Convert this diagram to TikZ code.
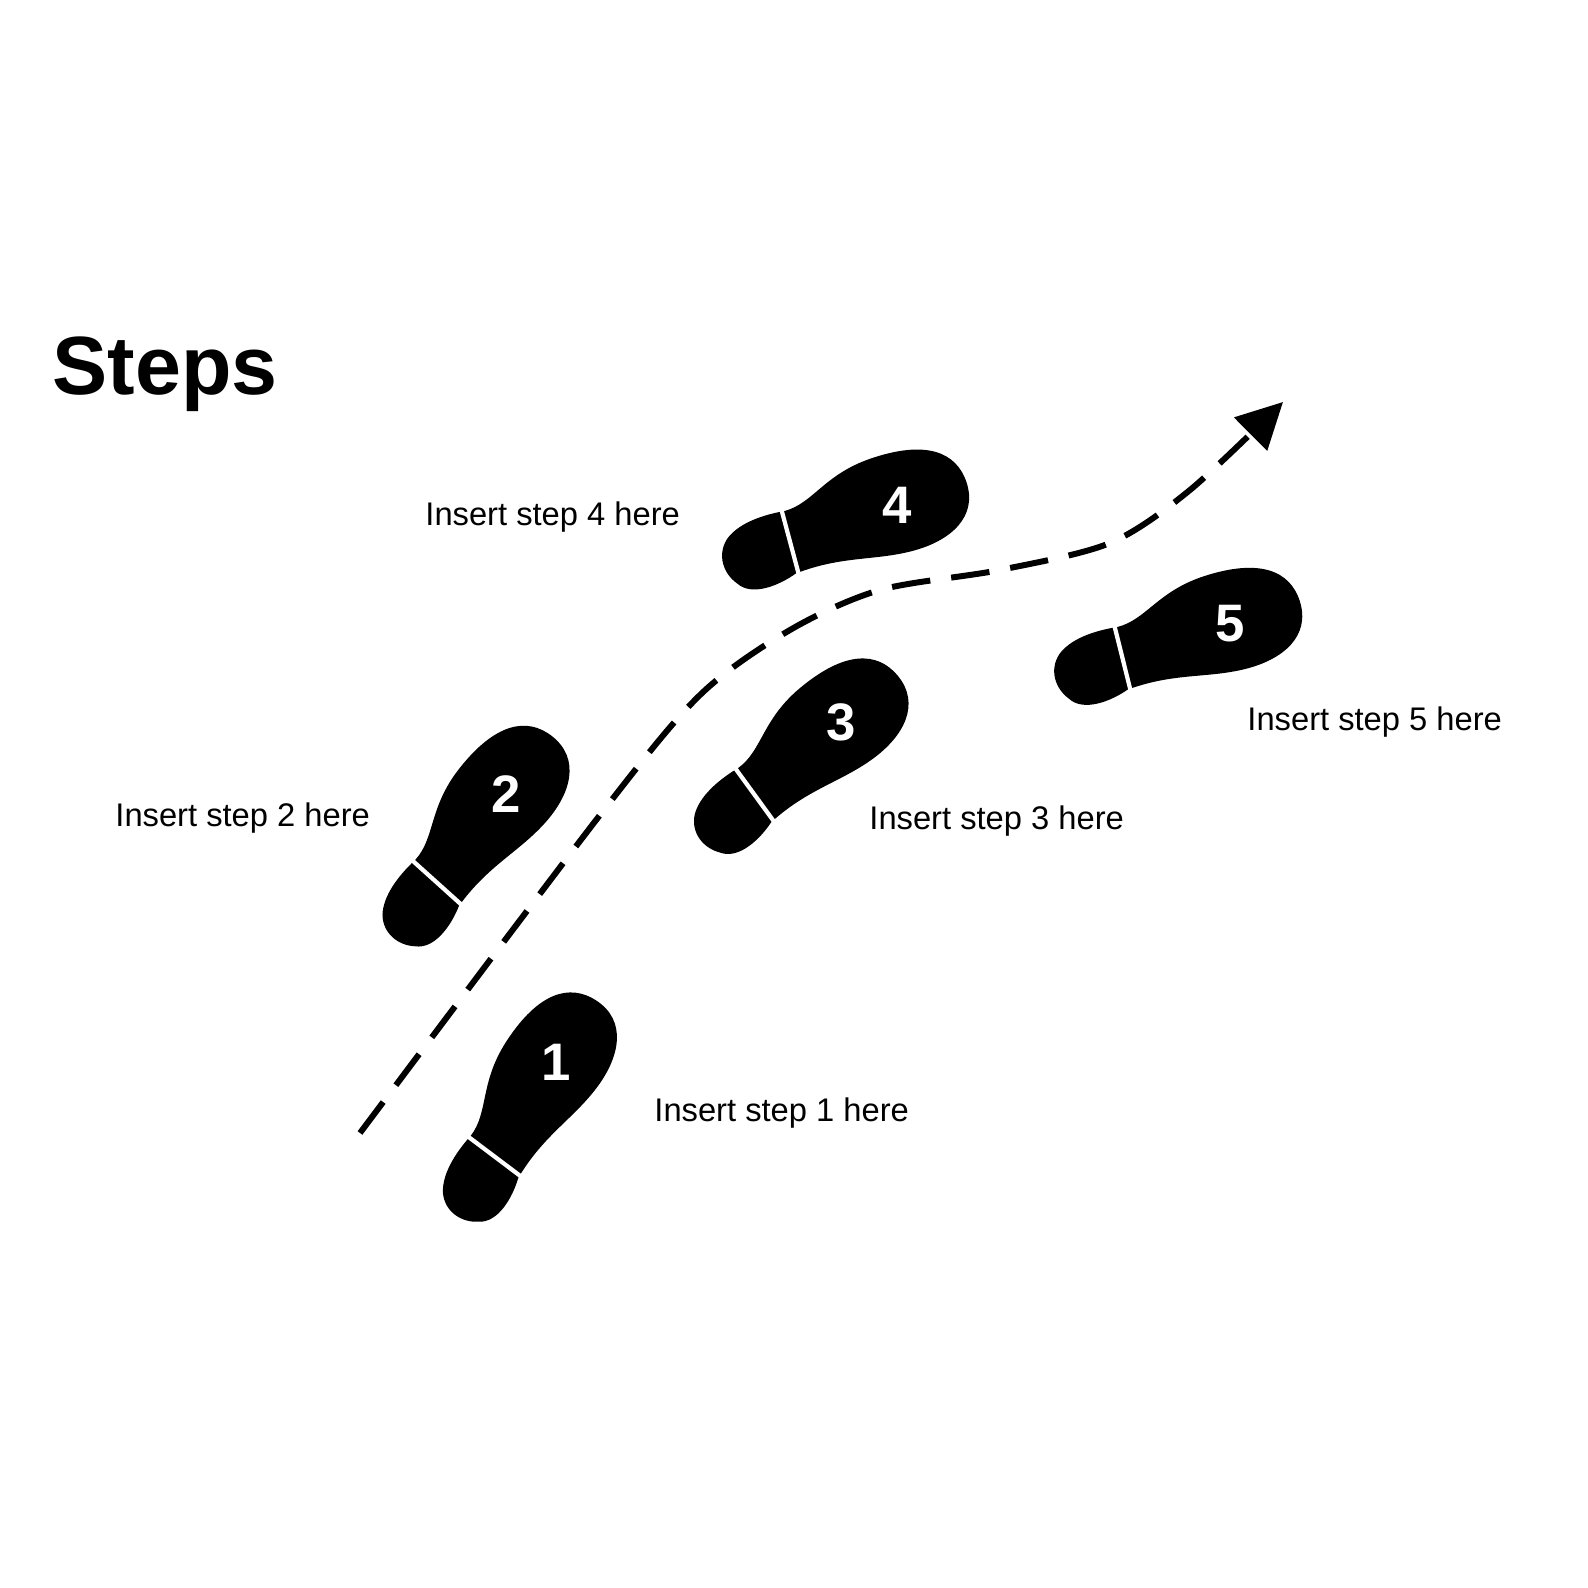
\documentclass[tikz,border=0pt]{standalone}
\usepackage{fontspec}
\setmainfont{Liberation Sans}
\usetikzlibrary{arrows.meta}
\tikzset{
 num/.style={text=white,font=\fontsize{15}{15}\selectfont\bfseries},
 lbl/.style={anchor=west,font=\fontsize{9.3}{11}\selectfont},
 foot/.pic={
  \fill[black] (60,-32) .. controls (40,-38) and (10,-40) .. (0,-22) .. controls (-10,-8) and (-10,12) .. (5,24) .. controls (20,35) and (45,36) .. (70,32) .. controls (100,30) and (120,54) .. (170,54) .. controls (230,54) and (255,32) .. (255,0) .. controls (255,-38) and (220,-52) .. (180,-49) .. controls (140,-46) and (110,-30) .. (60,-32) -- cycle;
  \draw[white,line width=1.2pt] (62,-42) -- (68,44);
  \node[num] (-n) at (180,0) {#1};
 }
}
\begin{document}
\begin{tikzpicture}[x=0.01cm,y=0.01cm]
\useasboundingbox (0,0) rectangle (1588,1588);
\fill[white] (0,0) rectangle (1588,1588);
\node[anchor=west,font=\fontsize{23.5}{24}\selectfont\bfseries] (title) at (40,1214) {Steps};
\pic[rotate=57,scale=0.98] (f1) at (460,378) {foot=1};
\pic[rotate=52,scale=0.98] (f2) at (398,655) {foot=2};
\pic[rotate=40,scale=0.98] (f3) at (706,752) {foot=3};
\pic[rotate=19,scale=0.98] (f4) at (730,1025) {foot=4};
\pic[rotate=18,scale=0.98] (f5) at (1062,910) {foot=5};
\node[lbl] (l1) at (642,475) {Insert step 1 here};
\node[lbl] (l2) at (103,770) {Insert step 2 here};
\node[lbl] (l3) at (857,767) {Insert step 3 here};
\node[lbl] (l4) at (413,1071) {Insert step 4 here};
\node[lbl] (l5) at (1235,866) {Insert step 5 here};
\coordinate (p0) at (360,455);
\coordinate (p1) at (600,773);
\coordinate (p2) at (700,893);
\coordinate (p3) at (790,958);
\coordinate (p4) at (880,998);
\coordinate (p5) at (1000,1018);
\coordinate (p6) at (1110,1045);
\coordinate (p7) at (1190,1098);
\coordinate (p8) at (1283,1186);
\draw[line width=1.7pt,dash pattern=on 11pt off 6pt,-{Triangle[length=13pt,width=13pt]}]
 plot[smooth,tension=0.5] coordinates {(p0) (p1) (p2) (p3) (p4) (p5) (p6) (p7) (p8)};
\end{tikzpicture}
\end{document}
